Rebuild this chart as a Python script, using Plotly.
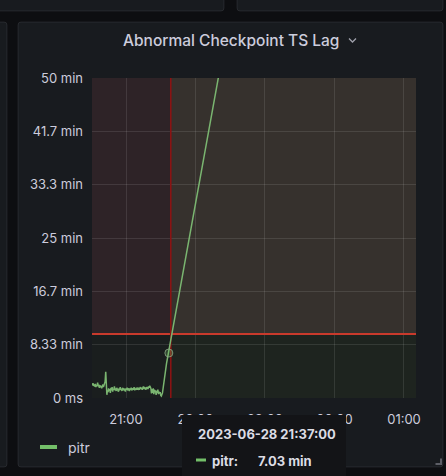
import pandas as pd
import plotly.graph_objects as go

# ---------------- data ----------------
series_name = "pitr"
early_start = "2023-06-28 20:30:30"
# lag in minutes, every 30 s from 20:30:30 to 21:31:00
lag_early = [
    2.2, 2.0, 2.3, 1.9, 2.1, 1.8, 2.2, 1.7, 2.0, 1.9, 2.4, 1.8, 2.1, 1.6, 2.0, 1.7, 1.9, 1.5, 1.8, 2.1,
    1.7, 2.0, 1.9, 2.6, 4.1, 2.2, 0.5, 1.2, 0.9, 1.5, 1.1, 1.4, 0.8, 1.6, 1.2, 1.7, 1.0, 1.4, 1.3, 1.8,
    1.2, 1.5, 1.1, 1.6, 1.3, 1.4, 1.0, 1.5, 1.2, 1.7, 1.3, 1.4, 1.1, 1.6, 1.2, 1.5, 1.3, 1.4, 1.0, 1.5,
    1.3, 1.6, 1.2, 1.4, 1.5, 1.1, 1.5, 1.3, 1.6, 1.2, 1.4, 1.5, 1.3, 1.7, 1.2, 1.5, 1.4, 1.6, 1.3, 1.5,
    1.4, 1.6, 1.3, 1.5, 1.7, 1.4, 1.6, 1.3, 1.5, 1.8, 1.4, 1.6, 1.5, 1.3, 1.7, 1.5, 1.6, 1.4, 1.8, 1.6,
    1.9, 1.7, 1.5, 0.7, 1.4, 0.8, 1.5, 0.6, 1.3, 0.9, 1.2, 0.5, 1.1, 0.8, 1.3, 0.6, 1.0, 0.7, 0.9, 0.4, 0.3,
]
ramp_times = [
    "2023-06-28 21:31:30", "2023-06-28 21:32:00", "2023-06-28 21:32:30", "2023-06-28 21:33:00",
    "2023-06-28 21:33:30", "2023-06-28 21:34:00", "2023-06-28 21:34:30", "2023-06-28 21:35:00",
    "2023-06-28 21:35:30", "2023-06-28 21:36:00", "2023-06-28 21:36:30", "2023-06-28 21:37:00",
    "2023-06-29 01:10:00",
]
ramp_values = [0.8, 1.6, 2.4, 3.0, 3.6, 4.2, 4.8, 5.4, 5.9, 6.4, 6.7, 7.03, 220.0]

hover_time = "2023-06-28 21:37:00"
hover_value = 7.03
threshold = 10.0
alert_time = "2023-06-28 21:38:40"
x_range = ["2023-06-28 20:30:39", "2023-06-29 01:10:22"]
y_max = 50
y_tickvals = [0, 50 / 6, 100 / 6, 25, 200 / 6, 250 / 6, 50]
y_ticktext = ["0 ms", "8.33 min", "16.7 min", "25 min", "33.3 min", "41.7 min", "50 min"]
title_text = "Abnormal Checkpoint TS Lag"

# --------------- build ---------------
times = list(pd.date_range(early_start, periods=len(lag_early), freq="30s")) + list(pd.to_datetime(ramp_times))
values = lag_early + ramp_values

W, H = 446, 476
L, R, T, B = 92, 416, 78, 398
def px(x):
    return (x - L) / (R - L)
def py(y):
    return (B - y) / (B - T)

def rrect(x0, y0, x1, y1, r=3):
    X = lambda v: px(v)
    Y = lambda v: py(v)
    return (f"M{X(x0+r)},{Y(y0)} L{X(x1-r)},{Y(y0)} Q{X(x1)},{Y(y0)} {X(x1)},{Y(y0+r)} "
            f"L{X(x1)},{Y(y1-r)} Q{X(x1)},{Y(y1)} {X(x1-r)},{Y(y1)} "
            f"L{X(x0+r)},{Y(y1)} Q{X(x0)},{Y(y1)} {X(x0)},{Y(y1-r)} "
            f"L{X(x0)},{Y(y0+r)} Q{X(x0)},{Y(y0)} {X(x0+r)},{Y(y0)} Z")

GREEN = "#73bf69"
TXT = "#ccccdc"
FONT = "Inter, Roboto, sans-serif"
border = "rgba(204,204,220,0.10)"
panel_bg = "#181b1f"

fig = go.Figure()
fig.add_trace(go.Scatter(x=times, y=values, mode="lines", name=series_name,
                         line=dict(color="#7ab570", width=1.5), showlegend=False, hoverinfo="skip"))
fig.add_trace(go.Scatter(x=[pd.Timestamp(hover_time)], y=[hover_value], mode="markers", showlegend=False,
                         marker=dict(size=8, color="rgba(115,191,105,0.25)",
                                     line=dict(color="rgba(140,170,135,0.8)", width=1)),
                         hoverinfo="skip"))

shapes = []
for (x0, y0, x1, y1) in [(-6, -6, 224, 11), (237, -6, 443, 11), (-6, 22, 7, 467), (18, 22, 443, 467)]:
    shapes.append(dict(type="path", xref="paper", yref="paper", path=rrect(x0, y0, x1, y1),
                       fillcolor=panel_bg, line=dict(color=border, width=1), layer="below"))
shapes += [
    dict(type="rect", xref="x", yref="y", x0=x_range[0], x1=alert_time, y0=threshold, y1=y_max,
         fillcolor="#2e2327", line_width=0, layer="below"),
    dict(type="rect", xref="x", yref="y", x0=alert_time, x1=x_range[1], y0=threshold, y1=y_max,
         fillcolor="#36312d", line_width=0, layer="below"),
    dict(type="rect", xref="x", yref="y", x0=alert_time, x1=x_range[1], y0=0, y1=threshold,
         fillcolor="#1e241f", line_width=0, layer="below"),
    dict(type="rect", xref="x", yref="y", x0=x_range[0], x1=alert_time, y0=0, y1=threshold,
         fillcolor="#1a1e1e", line_width=0, layer="below"),
    dict(type="line", xref="x", yref="y", x0=x_range[0], x1=x_range[1], y0=threshold, y1=threshold,
         line=dict(color="#c93a2c", width=2), layer="between"),
    dict(type="line", xref="x", yref="y", x0=alert_time, x1=alert_time, y0=0, y1=y_max,
         line=dict(color="#8a1313", width=1.6), layer="between"),
]
shapes.append(dict(type="path", xref="paper", yref="paper",
                   path=f"M{px(349)},{py(38.5)} L{px(352.5)},{py(42)} L{px(356)},{py(38.5)}",
                   line=dict(color="#9fa0ab", width=1.3)))
shapes.append(dict(type="line", xref="paper", yref="paper", x0=px(40), x1=px(57), y0=py(447), y1=py(447),
                   line=dict(color=GREEN, width=4)))
shapes.append(dict(type="path", xref="paper", yref="paper",
                   path=f"M{px(441)},{py(458.5)} L{px(441)},{py(464)} L{px(435.5)},{py(464)}",
                   line=dict(color="#5c5e66", width=2)))
shapes.append(dict(type="rect", xref="paper", yref="paper", x0=px(182), x1=px(346), y0=py(415), y1=py(480),
                   fillcolor="#131417", line=dict(color="rgba(0,0,0,0)", width=0), layer="above"))
shapes.append(dict(type="line", xref="paper", yref="paper", x0=px(196), x1=px(206), y0=py(460), y1=py(460),
                   line=dict(color=GREEN, width=3), layer="above"))

annotations = [
    dict(text=title_text, x=px(231), y=py(40), xref="paper", yref="paper", showarrow=False,
         xanchor="center", yanchor="middle", font=dict(family=FONT, size=15.5, color=TXT, weight=500)),
    dict(text=series_name, x=px(66), y=py(447), xref="paper", yref="paper", showarrow=False,
         xanchor="left", yanchor="middle", font=dict(family=FONT, size=14, color=TXT)),
    dict(text=pd.Timestamp(hover_time).strftime("%Y-%m-%d %H:%M:%S"), x=px(196), y=py(434),
         xref="paper", yref="paper", showarrow=False, xanchor="left", yanchor="middle",
         font=dict(family=FONT, size=13, color="#dcdce4", weight=700)),
    dict(text=f"{series_name}:", x=px(210), y=py(461), xref="paper", yref="paper", showarrow=False,
         xanchor="left", yanchor="middle", font=dict(family=FONT, size=13, color="#dcdce4", weight=700)),
    dict(text=f"{hover_value:.2f} min", x=px(256), y=py(461), xref="paper", yref="paper", showarrow=False,
         xanchor="left", yanchor="middle", font=dict(family=FONT, size=13, color="#dcdce4", weight=700)),
]

fig.update_layout(
    width=W, height=H,
    margin=dict(l=L, r=W - R, t=T, b=H - B, pad=0),
    paper_bgcolor="#0d0e11", plot_bgcolor="rgba(0,0,0,0)",
    shapes=shapes, annotations=annotations, showlegend=False,
    font=dict(family=FONT, color=TXT, size=13),
    xaxis=dict(type="date", range=x_range, tickformat="%H:%M", dtick=3600000, tick0="2023-06-28 21:00:00",
               showgrid=True, gridcolor="rgba(255,255,255,0.10)", gridwidth=1, zeroline=False,
               showline=False, ticks="", ticklabelstandoff=12, tickfont=dict(size=13, color=TXT)),
    yaxis=dict(range=[0, y_max], tickvals=y_tickvals, ticktext=y_ticktext, showgrid=True,
               gridcolor="rgba(255,255,255,0.10)", gridwidth=1, zeroline=False, showline=False,
               ticks="", ticklabelstandoff=8, tickfont=dict(size=13, color=TXT)),
)

fig.write_html("out.html", config={"displayModeBar": False},
               post_script="document.body.style.margin='0';document.body.style.background='#0d0e11';"
                           "document.body.style.overflow='hidden';")
